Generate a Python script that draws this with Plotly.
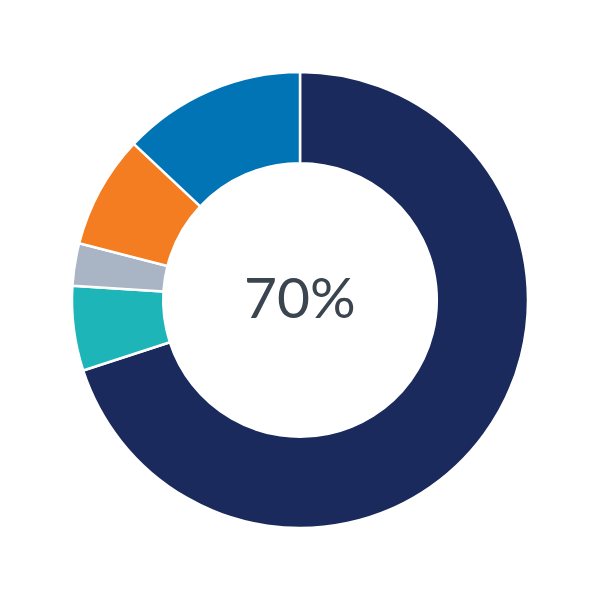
import plotly.graph_objects as go

labels = ["Navy", "Teal", "Gray", "Orange", "Blue"]
values = [70, 6, 3, 8, 13]
colors = ["#1b2a5c", "#1db5b8", "#a9b5c4", "#f37d20", "#0174b5"]
center_label = "70%"

fig = go.Figure(
    go.Pie(
        labels=labels,
        values=values,
        hole=0.6,
        sort=False,
        direction="clockwise",
        rotation=0,
        textinfo="none",
        hoverinfo="label+percent",
        marker=dict(colors=colors, line=dict(color="white", width=2.5)),
    )
)

fig.update_layout(
    width=600,
    height=600,
    showlegend=False,
    paper_bgcolor="white",
    plot_bgcolor="white",
    margin=dict(l=64, r=80, t=64, b=80),
    annotations=[
        dict(
            text=center_label,
            x=0.5, y=0.5,
            xref="paper", yref="paper",
            yshift=4,
            showarrow=False,
            font=dict(family="Lato", size=57, color="#3b4550"),
        )
    ],
)

fig.write_html("out.html")
